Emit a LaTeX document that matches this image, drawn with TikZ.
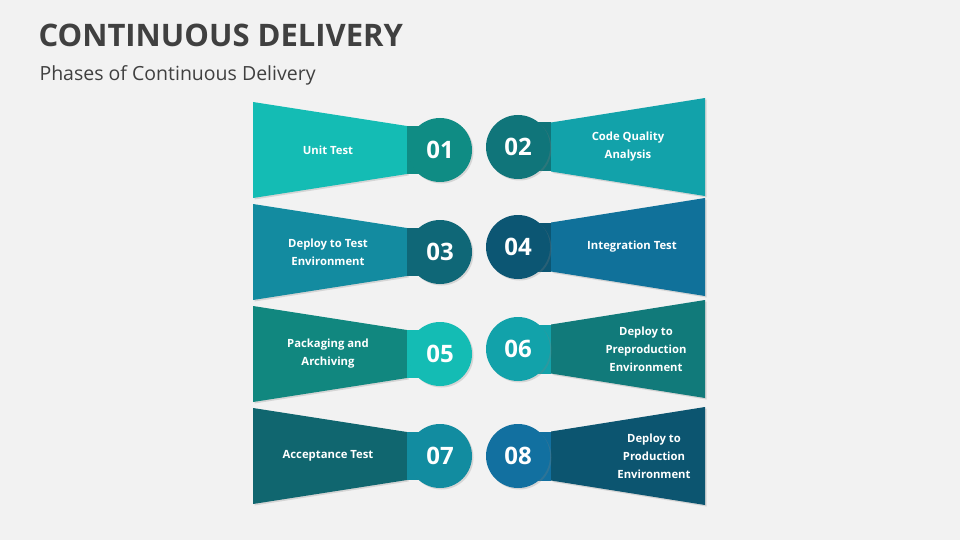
\documentclass[tikz,border=0pt]{standalone}
\usepackage{fontspec}
\setmainfont{Open Sans}
\usetikzlibrary{shadows}
\definecolor{bg}{HTML}{F2F2F2}
\definecolor{ttl}{HTML}{404040}
\definecolor{cA}{HTML}{14BCB4}
\definecolor{cB}{HTML}{0F8C84}
\definecolor{cC}{HTML}{12A2AA}
\definecolor{cD}{HTML}{10757A}
\definecolor{cE}{HTML}{138BA0}
\definecolor{cF}{HTML}{0F6777}
\definecolor{cG}{HTML}{10719A}
\definecolor{cH}{HTML}{0C5673}
\definecolor{cI}{HTML}{11877F}
\definecolor{cJ}{HTML}{117A7A}
\definecolor{cK}{HTML}{10666F}
\definecolor{cL}{HTML}{128CA0}
\definecolor{cM}{HTML}{0C5570}
\definecolor{cN}{HTML}{1270A0}
\tikzset{
 lbl/.style={text=white,font=\bfseries\fontsize{11.3}{18}\selectfont,align=center},
 num/.style={text=white,font=\bfseries\fontsize{24}{28}\selectfont},
 shp/.style={drop shadow={shadow xshift=1.5pt,shadow yshift=-1.5pt,opacity=0.25}},
}
\newcommand{\leftitem}[5]{%
 \fill[#2,shp] (253,#1-48) -- (407,#1-24) -- (407,#1+24) -- (253,#1+48) -- cycle;
 \fill[#3] (407,#1-24) rectangle (440,#1+24);
 \node[circle,fill=#3,minimum size=64pt,inner sep=0pt,num,shp] (c#4) at (440,#1) {#4};
 \node[lbl] (t#4) at (328,#1) {#5};
}
\newcommand{\rightitem}[6]{%
 \fill[#2,shp] (551,#1-24.5) -- (705,#1-49) -- (705,#1+49) -- (551,#1+24.5) -- cycle;
 \fill[#3] (518,#1-24.5) rectangle (551,#1+24.5);
 \node[circle,fill=#3,minimum size=64pt,inner sep=0pt,num,shp] (c#4) at (518,#1) {#4};
 \node[lbl] (t#4) at (#6,#1) {#5};
}
\begin{document}
\begin{tikzpicture}[x=1pt,y=-1pt]
\fill[bg] (0,0) rectangle (960,540);
\useasboundingbox (0,0) rectangle (960,540);
\node[anchor=west,text=ttl,font=\bfseries\fontsize{31}{34}\selectfont] (title) at (35,35) {CONTINUOUS DELIVERY};
\node[anchor=west,text=ttl,font=\fontsize{19.5}{22}\selectfont] (sub) at (36,75) {Phases of Continuous Delivery};
\leftitem{150}{cA}{cB}{01}{Unit Test}
\rightitem{147}{cC}{cD}{02}{Code Quality\\Analysis}{628}
\leftitem{252}{cE}{cF}{03}{Deploy to Test\\Environment}
\rightitem{247}{cG}{cH}{04}{Integration Test}{632}
\leftitem{354}{cI}{cA}{05}{Packaging and\\Archiving}
\rightitem{349}{cJ}{cC}{06}{Deploy to\\Preproduction\\Environment}{646}
\leftitem{456}{cK}{cL}{07}{Acceptance Test}
\rightitem{456}{cM}{cN}{08}{Deploy to\\Production\\Environment}{654}
\end{tikzpicture}
\end{document}
